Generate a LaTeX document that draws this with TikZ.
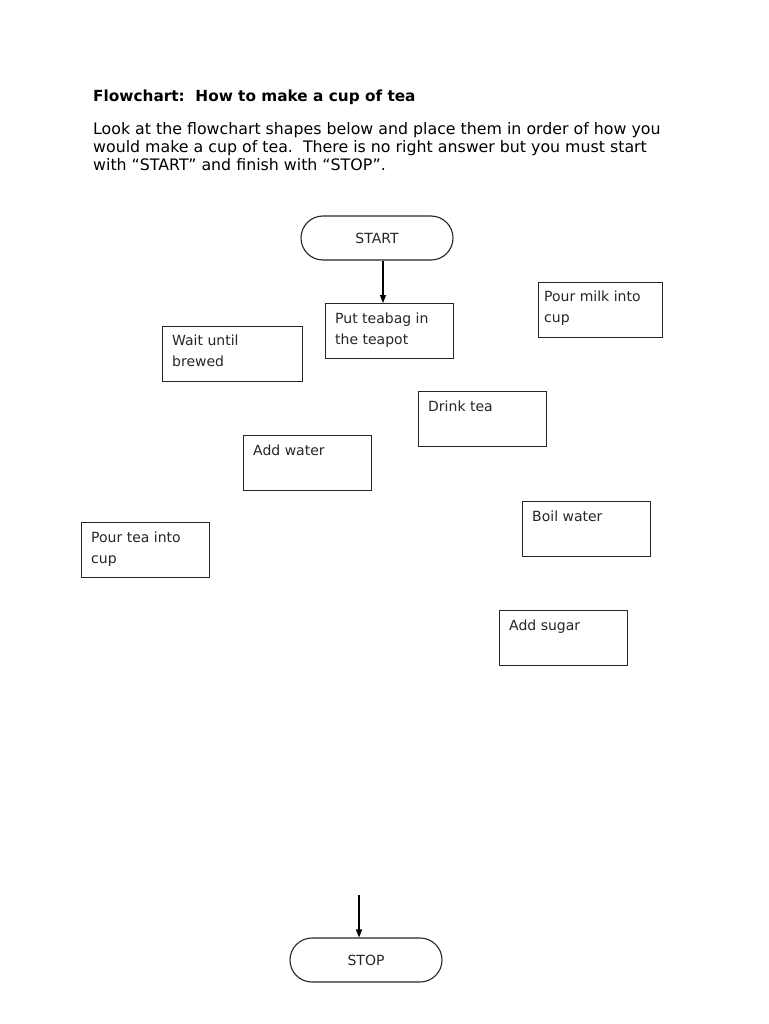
\documentclass[tikz,border=0pt]{standalone}
\usepackage{fontspec}
\setmainfont{DejaVu Sans}
\usetikzlibrary{shapes.misc,arrows.meta}
\begin{document}
\begin{tikzpicture}[x=1pt,y=-1pt,
  box/.style={draw=black!85,line width=1.1pt,rectangle,minimum width=128pt,minimum height=55pt,anchor=north west,inner sep=0pt},
  term/.style={draw=black!85,line width=1.1pt,rounded rectangle,minimum width=152pt,minimum height=44pt,inner sep=0pt,font=\fontsize{14}{16}\selectfont,text=black!85},
  txt/.style={anchor=north west,align=left,inner sep=0pt,font=\fontsize{14}{21}\selectfont,text=black!85},
  arr/.style={-{Triangle[length=8pt,width=6pt]},line width=1.1pt}]
\useasboundingbox[fill=white] (0,0) rectangle (768,1024);
\node[anchor=base west,inner sep=0pt,font=\fontsize{15.3}{17}\selectfont\bfseries] (title) at (93,102) {Flowchart:\ \ How to make a cup of tea};
\node[anchor=north west,inner sep=0pt,align=left,font=\fontsize{15.8}{18}\selectfont] (intro) at (93,122)
  {Look at the flowchart shapes below and place them in order of how you\\
   would make a cup of tea.\ \ There is no right answer but you must start\\
   with “START” and finish with “STOP”.};
\node[term] (start) at (377,238) {START};
\node[box] (teabag) at (325,303) {};
\node[txt] (teabagT) at (335,313) {Put teabag in\\the teapot};
\node[box,minimum width=124pt] (milk) at (538,282) {};
\node[txt] (milkT) at (544,291) {Pour milk into\\cup};
\node[box,minimum width=140pt] (wait) at (162,326) {};
\node[txt] (waitT) at (172,335) {Wait until\\brewed};
\node[box] (drink) at (418,391) {};
\node[txt] (drinkT) at (428,401) {Drink tea};
\node[box] (water) at (243,435) {};
\node[txt] (waterT) at (253,445) {Add water};
\node[box] (boil) at (522,501) {};
\node[txt] (boilT) at (532,511) {Boil water};
\node[box] (pour) at (81,522) {};
\node[txt] (pourT) at (91,532) {Pour tea into\\cup};
\node[box] (sugar) at (499,610) {};
\node[txt] (sugarT) at (509,620) {Add sugar};
\node[term] (stop) at (366,960) {STOP};
\coordinate (stopin) at (359,895);
\draw[arr] (start.south -| 383,0) -- (teabag.north -| 383,0);
\draw[arr] (stopin) -- (stop.north -| stopin);
\end{tikzpicture}
\end{document}
